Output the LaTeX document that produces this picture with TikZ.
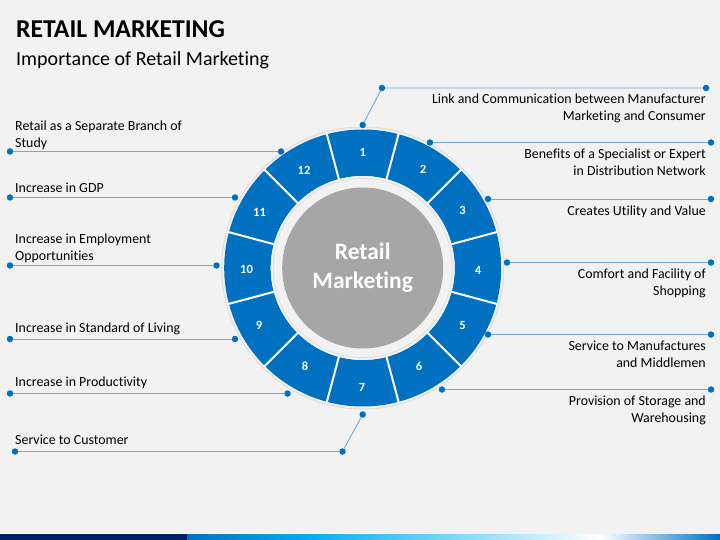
\documentclass[tikz,border=0pt]{standalone}
\usepackage{fontspec}
\setmainfont[Ligatures=NoCommon]{Carlito}
\definecolor{pagebg}{HTML}{F2F2F2}
\definecolor{segblue}{HTML}{0070C0}
\definecolor{linkblue}{HTML}{6FA8DC}
\definecolor{hub}{HTML}{A6A6A6}
\definecolor{ringgrey}{HTML}{DDDDDD}
\definecolor{navy}{HTML}{002060}
\definecolor{sky}{HTML}{00B0F0}
\tikzset{
  lbl/.style={font=\fontsize{13.9}{17}\selectfont,text=black,inner sep=0pt},
  lblr/.style={lbl,anchor=north east,align=right},
  lbll/.style={lbl,anchor=north west,align=left},
  dot/.style={circle,fill=segblue,draw=none,minimum size=6.5pt,inner sep=0pt},
  link/.style={draw=linkblue,line width=0.9pt},
  num/.style={font=\fontsize{12.5}{14}\selectfont\bfseries,text=white,inner sep=0pt},
}
\begin{document}
\begin{tikzpicture}[x=1pt,y=-1pt]
\useasboundingbox (0,0) rectangle (720,540);
\fill[pagebg] (0,0) rectangle (720,540);
% bottom bar
\fill[white] (0,532.5) rectangle (385,534);
\fill[navy] (0,534) rectangle (187,540);
\shade[left color=segblue,right color=sky] (187,534) rectangle (310,540);
\shade[left color=sky,right color=white] (310,534) rectangle (600,540);
\shade[left color=white,right color=segblue] (600,534) rectangle (720,540);
% title
\node[anchor=west,inner sep=0pt,font=\fontsize{25.7}{30}\selectfont\bfseries] (title) at (16,29) {RETAIL MARKETING};
\node[anchor=west,inner sep=0pt,font=\fontsize{20}{24}\selectfont] (subtitle) at (16,60) {Importance of Retail Marketing};
% wheel
\coordinate (c) at (362.7,268);
\begin{scope}[shift={(362.7pt,-268pt)},x=1pt,y=1pt]
\draw[ringgrey,line width=1pt] (0,0) circle[radius=141pt];
\foreach \k in {0,...,11}{
  \pgfmathsetmacro{\a}{75-30*\k}
  \pgfmathsetmacro{\b}{105-30*\k}
  \fill[segblue] (\a:138.5pt) arc[start angle=\a,end angle=\b,radius=138.5pt]
     -- (\b:92pt) arc[start angle=\b,end angle=\a,radius=92pt] -- cycle;
}
\foreach \k in {0,...,11}{
  \pgfmathsetmacro{\a}{75-30*\k}
  \draw[white,line width=2pt] (\a:91pt) -- (\a:140pt);
}
\fill[pagebg] (0,0) circle[radius=92pt];
\draw[ringgrey,line width=0.7pt] (0,0) circle[radius=89.5pt];
\end{scope}
\node[circle,fill=hub,minimum size=161pt,inner sep=0pt,align=center,text=white,
  font=\fontsize{23.5}{29}\selectfont\bfseries] (hubc) at (c) {Retail\\[0pt]Marketing};
% numbers
\node[num] (n1) at (362.7,152) {1};
\node[num] (n2) at (423,169) {2};
\node[num] (n3) at (462.5,210) {3};
\node[num] (n4) at (478,270) {4};
\node[num] (n5) at (462.5,325) {5};
\node[num] (n6) at (419,366.5) {6};
\node[num] (n7) at (362,387) {7};
\node[num] (n8) at (305,366) {8};
\node[num] (n9) at (259,325) {9};
\node[num] (n10) at (246.5,269) {10};
\node[num] (n11) at (259.5,212) {11};
\node[num] (n12) at (304,170) {12};
% connector anchors
\node[dot] (a1) at (362.7,125) {};
\node[dot] (b1) at (382,88) {};
\node[dot] (e1) at (706,88) {};
\node[dot] (a2) at (430,142.5) {};
\node[dot] (e2) at (711,142.5) {};
\node[dot] (a3) at (488,199) {};
\node[dot] (e3) at (711,199) {};
\node[dot] (a4) at (507,262.5) {};
\node[dot] (e4) at (711,262.5) {};
\node[dot] (a5) at (488,334.5) {};
\node[dot] (e5) at (711,334.5) {};
\node[dot] (a6) at (442,389.5) {};
\node[dot] (e6) at (711,389.5) {};
\node[dot] (a7) at (362.7,414.5) {};
\node[dot] (b7) at (342.5,451.5) {};
\node[dot] (e7) at (15,451.5) {};
\node[dot] (a8) at (287.5,393.5) {};
\node[dot] (e8) at (10,393.5) {};
\node[dot] (a9) at (235,339) {};
\node[dot] (e9) at (10,339) {};
\node[dot] (a10) at (216.5,265.5) {};
\node[dot] (e10) at (10,265.5) {};
\node[dot] (a11) at (235,197.5) {};
\node[dot] (e11) at (10,197.5) {};
\node[dot] (a12) at (281,151.5) {};
\node[dot] (e12) at (10,151.5) {};
\draw[link] (a1) -- (b1) -- (e1);
\draw[link] (a7) -- (b7) -- (e7);
\foreach \k in {2,3,4,5,6,8,9,10,11,12} \draw[link] (a\k) -- (e\k);
% labels right
\node[lblr] (t1) at (706,94) {Link and Communication between Manufacturer\\Marketing and Consumer};
\node[lblr] (t2) at (706,149) {Benefits of a Specialist or Expert\\in Distribution Network};
\node[lblr] (t3) at (706,206) {Creates Utility and Value};
\node[lblr] (t4) at (706,269) {Comfort and Facility of\\Shopping};
\node[lblr] (t5) at (706,341) {Service to Manufactures\\and Middlemen};
\node[lblr] (t6) at (706,396) {Provision of Storage and\\Warehousing};
% labels left
\node[lbll] (t12) at (15,121) {Retail as a Separate Branch of\\Study};
\node[lbll] (t11) at (15,183) {Increase in GDP};
\node[lbll] (t10) at (15,234) {Increase in Employment\\Opportunities};
\node[lbll] (t9) at (15,323) {Increase in Standard of Living};
\node[lbll] (t8) at (15,377) {Increase in Productivity};
\node[lbll] (t7) at (15,435) {Service to Customer};
\end{tikzpicture}
\end{document}
